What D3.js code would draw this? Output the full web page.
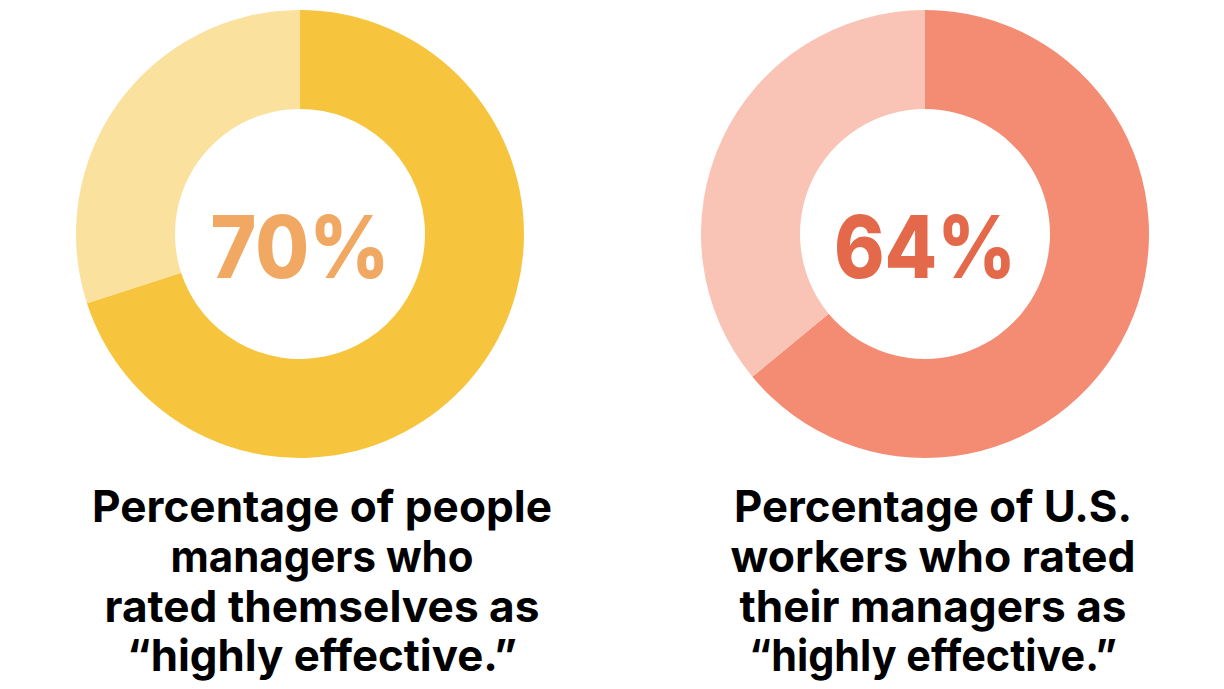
<!DOCTYPE html>
<html>
<head>
<meta charset="utf-8">
<script src="https://cdn.jsdelivr.net/npm/d3@7"></script>
<style>
  html, body { margin: 0; padding: 0; background: #fff; }
  svg { display: block; }
  text { font-family: "Inter", "Lato", "Open Sans", sans-serif; }
</style>
</head>
<body>
<svg id="chart" width="1224" height="689"></svg>
<script>
// ---- data ----
const charts = ["managers", "workers"];
const percentValues = [70, 64];
const percentLabels = ["70%", "64%"];
const mainColors = ["#F7C43D", "#F48B73"];
const restColors = ["#FAE19D", "#F9C3B5"];
const labelColors = ["#F0A862", "#E4694B"];
const captions = [
  ["Percentage of people", "managers who", "rated themselves as", "\u201Chighly effective.\u201D"],
  ["Percentage of U.S.", "workers who rated", "their managers as", "\u201Chighly effective.\u201D"]
];

// ---- layout ----
const svg = d3.select("#chart");
const centers = [{x: 300, y: 234}, {x: 925, y: 234}];
const captionX = [322, 933];
const captionWidths = [[460, 303, 435, 390], [398, 405, 387, 368]];
const pctWidths = [179, 182];
const outerR = 224, innerR = 125;

const pie = d3.pie().sort(null).value(d => d);
const arc = d3.arc().innerRadius(innerR).outerRadius(outerR);

charts.forEach((c, i) => {
  const g = svg.append("g").attr("transform", `translate(${centers[i].x},${centers[i].y})`);
  const arcs = pie([percentValues[i], 100 - percentValues[i]]);
  g.selectAll("path").data(arcs).join("path")
    .attr("d", arc)
    .attr("fill", (d, j) => j === 0 ? mainColors[i] : restColors[i]);

  g.append("text")
    .attr("text-anchor", "middle")
    .attr("y", 44)
    .attr("fill", labelColors[i])
    .attr("font-weight", 800)
    .attr("font-size", 86)
    .attr("textLength", pctWidths[i])
    .attr("lengthAdjust", "spacingAndGlyphs")
    .text(percentLabels[i]);

  const baselines = [522, 572, 622, 671];
  svg.append("g").selectAll("text").data(captions[i]).join("text")
    .attr("x", captionX[i])
    .attr("y", (d, j) => baselines[j])
    .attr("text-anchor", "middle")
    .attr("fill", "#000")
    .attr("font-weight", 700)
    .attr("font-size", 44)
    .attr("textLength", (d, j) => captionWidths[i][j])
    .attr("lengthAdjust", "spacingAndGlyphs")
    .text(d => d);
});
</script>
</body>
</html>
